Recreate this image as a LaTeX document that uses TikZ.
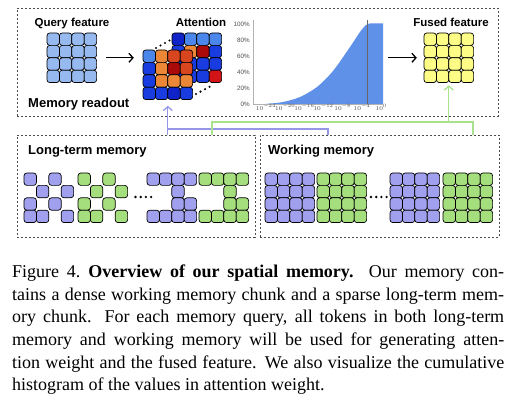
\documentclass[tikz,border=0pt]{standalone}
\usepackage{fontspec}
\setmainfont{Liberation Serif}
\newfontfamily\labelfont{Liberation Sans}
\usetikzlibrary{arrows.meta}

\definecolor{qblue}{RGB}{150,186,240}
\definecolor{fyellow}{RGB}{252,252,135}
\definecolor{mpurple}{RGB}{160,160,238}
\definecolor{mgreen}{RGB}{165,222,125}
\definecolor{ablue}{RGB}{75,135,235}
\definecolor{dblue}{RGB}{25,60,225}
\definecolor{nblue}{RGB}{15,35,200}
\definecolor{aorange}{RGB}{235,135,55}
\definecolor{rorange}{RGB}{215,70,30}
\definecolor{dred}{RGB}{170,10,10}
\definecolor{ared}{RGB}{210,20,25}
\definecolor{chartblue}{RGB}{95,145,232}
\definecolor{plink}{RGB}{150,150,230}
\definecolor{glink}{RGB}{170,225,140}

\newcommand{\fullgrid}[3]{% left, top, colour
  \foreach \cx in {0,...,3} \foreach \cy in {0,...,3}
    \draw[tok, fill=#3] ({#1+\cx*12.4}, {#2+\cy*12.4}) rectangle ++(12.4,12.4);}
\newcommand{\sparsegrid}[4]{% left, top, colour, cell list macro
  \foreach \cx/\cy in #4
    \draw[tok, fill=#3] ({#1+\cx*12.4}, {#2+\cy*12.4}) rectangle ++(12.4,12.4);}
\newcommand{\scatterset}{0/0,2/0,1/1,3/1,0/2,2/2,0/3,1/3,3/3}
\newcommand{\bracketset}{0/0,1/0,2/0,3/0,2/1,2/2,3/2,0/3,1/3,2/3,3/3}

\begin{document}
\begin{tikzpicture}[x=1pt, y=-1pt,
  tok/.style = {draw=black, line width=0.7pt, rounded corners=2.8pt},
  panel/.style = {draw=black!70, dash pattern=on 2.2pt off 1.8pt, line width=0.6pt, inner sep=0},
  gridbox/.style = {minimum size=49.6pt, inner sep=0},
  title/.style = {font=\labelfont\bfseries\fontsize{11.5}{13}\selectfont, inner sep=0},
  bigtitle/.style = {font=\labelfont\bfseries\fontsize{13}{15}\selectfont, inner sep=0, anchor=base west},
  tick/.style = {font=\labelfont\fontsize{6.3}{7}\selectfont, text=black!70, inner sep=0},
  flow/.style = {line width=1.3pt, -{Straight Barb[length=4pt, width=9pt]}},
  purplelink/.style = {draw=plink, line width=1.2pt},
  greenlink/.style = {draw=glink, line width=1.2pt}]
\useasboundingbox (0,0) rectangle (521,411);

\node[panel, minimum width=481pt, minimum height=108pt] (readout) at (257.5,62) {};
\node[panel, minimum width=238pt, minimum height=102pt] (longterm) at (136,186) {};
\node[panel, minimum width=239pt, minimum height=102pt] (working) at (379.5,186) {};

\node[title, anchor=base] (qlabel) at (72,27) {Query feature};
\node[title, anchor=base] (alabel) at (201,27) {Attention};
\node[title, anchor=base] (flabel) at (451,27) {Fused feature};
\node[bigtitle] (mlabel) at (28,107.7) {Memory readout};
\node[bigtitle] (ltlabel) at (28,155) {Long-term memory};
\node[bigtitle] (wmlabel) at (268,155) {Working memory};

\node[gridbox] (query) at (71.8,57.8) {};
\node[gridbox] (attn) at (167.8,74.8) {};
\node[gridbox] (fused) at (448.8,57.8) {};
\node[inner sep=0, minimum width=130pt, minimum height=80pt] (chart) at (318,64) {};

\fullgrid{47}{33}{qblue}
\fullgrid{424}{33}{fyellow}

\foreach \cx/\cy/\hue in {0/0/nblue,1/0/ablue,2/0/ablue,3/0/ablue,
    0/1/dblue,1/1/aorange,2/1/dred,3/1/dblue,0/2/dblue,1/2/dblue,2/2/dblue,3/2/dblue,
    0/3/dblue,1/3/dblue,2/3/dblue,3/3/ared}
  \draw[tok, fill=\hue] ({172+\cx*12.4}, {33+\cy*12.4}) rectangle ++(12.4,12.4);
\foreach \cx/\cy/\hue in {0/0/ablue,1/0/aorange,2/0/rorange,3/0/rorange,
    0/1/dblue,1/1/aorange,2/1/dred,3/1/rorange,0/2/dblue,1/2/aorange,2/2/aorange,3/2/aorange,
    0/3/dblue,1/3/dblue,2/3/nblue,3/3/dblue}
  \draw[tok, fill=\hue] ({143+\cx*12.4}, {50+\cy*12.4}) rectangle ++(12.4,12.4);
\foreach \k in {0,...,3} {
  \fill ({156+\k*4.5}, {48-\k*2.5}) circle (1.2);
  \fill ({196+\k*4.5}, {94-\k*2.4}) circle (1.2);
}

\fill[chartblue] plot[smooth] coordinates {(265,104) (283,102) (300,97) (317,87)
  (333,71) (350,47) (360,32) (366,25) (370,23.5)} -- (383,23.5) -- (383,104) -- cycle;
\draw[black!30, line width=0.4pt] (253,20) -- (253,104) -- (383,104);
\draw[black!60, line width=0.4pt] (366.7,20) -- (366.7,104);
\foreach \v/\yy in {100/24,80/40,60/56,40/72,20/88,0/104}
  \node[tick, anchor=east] at (250,\yy) {\v\%};
\foreach \e [count=\n from 0] in {-24,-20,-16,-12,-8,-4,0}
  \node[tick, anchor=base] at ({266+\n*19.2},110.5) {$10^{\e}$};

\draw[flow, shorten <=9pt, shorten >=9pt] (query.east) -- (query.east -| attn.west);
\draw[flow, shorten <=5pt, shorten >=7pt] (fused.west -| chart.east) -- (fused.west);

\sparsegrid{24}{173}{mpurple}{\scatterset}
\sparsegrid{78}{173}{mgreen}{\scatterset}
\sparsegrid{147}{173}{mpurple}{\bracketset}
\sparsegrid{199}{173}{mgreen}{\bracketset}
\fullgrid{265}{173}{mpurple}
\fullgrid{317}{173}{mgreen}
\fullgrid{390}{173}{mpurple}
\fullgrid{443}{173}{mgreen}
\foreach \k in {0,...,3} {
  \fill ({135.5+\k*5.2},197) circle (1.3);
  \fill ({371+\k*5.2},197) circle (1.3);
}

\coordinate (pjoin) at (328,129);
\coordinate (gleft) at (212,122);
\coordinate (gright) at (473,122);
\draw[purplelink] (pjoin |- working.north) -- (pjoin) -- (pjoin -| attn.south);
\draw[purplelink, flow, shorten >=6pt] (attn.south |- longterm.north) -- (attn.south);
\draw[greenlink] (gleft |- longterm.north) -- (gleft) -- (gright) -- (gright |- working.north);
\draw[greenlink, flow, shorten >=2.5pt] (fused.south |- gleft) -- (fused.south);

\node[anchor=north west, inner sep=0, text width=492pt, align=justify,
  font=\fontsize{18}{22.67}\selectfont] (caption) at (12,264.5)
  {\hyphenpenalty=10000 \exhyphenpenalty=10000
  Figure 4.\hskip 0.45em\textbf{Overview of our spatial memory.} Our memory con-\linebreak
  tains a dense working memory chunk and a sparse long-term mem-\linebreak
  ory chunk. For each memory query, all tokens in both long-term\linebreak
  memory and working memory will be used for generating atten-\linebreak
  tion weight and the fused feature. We also visualize the cumulative\linebreak
  histogram of the values in attention weight.};
\end{tikzpicture}
\end{document}
